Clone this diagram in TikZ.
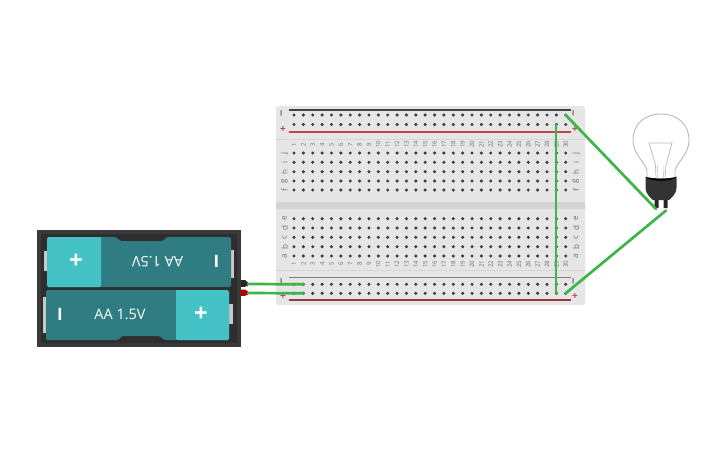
\documentclass[tikz,border=0pt]{standalone}
\usepackage{fontspec}
\setmainfont{Open Sans}
\definecolor{board}{HTML}{E6E6E6}
\definecolor{bandc}{HTML}{D3D3D3}
\definecolor{holec}{HTML}{3A3A3A}
\definecolor{wirec}{HTML}{3DB54A}
\definecolor{railred}{HTML}{C0474C}
\definecolor{raildark}{HTML}{444444}
\definecolor{labelc}{HTML}{6E6E6E}
\definecolor{teal}{HTML}{2F7D83}
\definecolor{tealL}{HTML}{45C2C6}
\definecolor{holder}{HTML}{3A3A3A}
\definecolor{termc}{HTML}{C9C9C9}
\definecolor{glass}{HTML}{B8B8B8}
\tikzset{
  hole/.style={fill=holec,draw=none},
  wire/.style={draw=wirec,line width=2.7pt,line cap=round},
  lbl/.style={text=labelc,font=\fontsize{6}{6}\selectfont,inner sep=0pt},
  railmark/.style={text=labelc,inner sep=0pt,rotate=90,font=\bfseries\fontsize{11}{11}\selectfont},
  plusmark/.style={text=railred,inner sep=0pt,font=\bfseries\fontsize{10}{10}\selectfont},
  cellwhite/.style={text=white,inner sep=0pt},
  glassline/.style={draw=glass,line width=0.9pt,fill=none},
}
\begin{document}
\begin{tikzpicture}[x=1pt,y=-1pt]
\useasboundingbox (0,0) rectangle (725,453);
% breadboard
\fill[board,rounded corners=1.5pt] (276,106) rectangle (585,305);
\fill[bandc] (276,202) rectangle (585,209);
\draw[white!84!black,line width=0.7pt] (276,139) -- (585,139) (276,270) -- (585,270);
\draw[raildark,line width=1.3pt] (289,110) -- (571,110);
\draw[railred,line width=1.3pt] (289,132) -- (571,132);
\draw[gray,line width=1.5pt] (289,277.7) -- (571,277.7);
\draw[railred!80!black,line width=1.2pt] (289,300) -- (571,300);
% holes
\foreach \i in {0,...,29}{
  \pgfmathsetmacro{\hx}{294+9.37*\i}
  \foreach \hy in {115,124.5,153,162.3,171.7,181,190,218.7,228,237.3,246.7,256,284.3,293.3}{
    \fill[hole] (\hx,\hy) circle (1.7);
  }
  \pgfmathtruncatemacro{\n}{\i+1}
  \node[lbl,rotate=90] at (\hx,144.5) {\n};
  \node[lbl,rotate=90] at (\hx,264) {\n};
}
\foreach \t/\hy in {j/153,i/162.3,h/171.7,g/181,f/190,e/218.7,d/228,c/237.3,b/246.7,a/256}{
  \node[lbl,rotate=90,font=\fontsize{8}{8}\selectfont] at (284.5,\hy) {\t};
  \node[lbl,rotate=90,font=\fontsize{8}{8}\selectfont] at (576,\hy) {\t};
}
\node[railmark] (mtl) at (283,113) {−};
\node[railmark] (mtr) at (575,113) {−};
\node[railmark] (mbl) at (283,281) {−};
\node[railmark] (mbr) at (575,281) {−};
\node[plusmark] (ptl) at (283,129.5) {+};
\node[plusmark] (ptr) at (575,129.5) {+};
\node[plusmark] (pbl) at (283,296.5) {+};
\node[plusmark] (pbr) at (575,296.5) {+};
% battery holder
\fill[holder] (37,230) rectangle (241,347);
\fill[black!82,rounded corners=2pt] (41,234) rectangle (237,343);
% terminals
\fill[termc] (43.5,251) rectangle (48,271);
\fill[termc] (230,250) rectangle (234,278);
\fill[termc] (43,297) rectangle (47,333);
\fill[termc] (228,304) rectangle (233,324);
% top cell
\fill[teal,rounded corners=1.5pt] (47,237) -- (116,237) -- (120,241) -- (163,241) -- (167,237) -- (231,237) -- (231,287) -- (47,287) -- cycle;
\fill[tealL,rounded corners=1.5pt] (101,237) -- (47,237) -- (47,287) -- (101,287) [sharp corners] -- cycle;
% bottom cell
\fill[teal,rounded corners=1.5pt] (46,290) -- (229,290) -- (229,340) -- (164,340) -- (160,336) -- (122,336) -- (118,340) -- (46,340) -- cycle;
\fill[tealL,rounded corners=1.5pt] (176,290) -- (229,290) -- (229,340) -- (176,340) [sharp corners] -- cycle;
\node[cellwhite,font=\fontsize{14.5}{14}\selectfont,rotate=180] (lt) at (157.5,262) {AA 1.5V};
\node[cellwhite,font=\fontsize{14.5}{14}\selectfont] (lb) at (120,314.5) {AA 1.5V};
\node[cellwhite,font=\bfseries\fontsize{24}{24}\selectfont] (pt) at (76,261) {+};
\node[cellwhite,font=\bfseries\fontsize{24}{24}\selectfont] (pb) at (201,314) {+};
\node[cellwhite,font=\bfseries\fontsize{17}{17}\selectfont] (it) at (216.5,261.5) {I};
\node[cellwhite,font=\bfseries\fontsize{17}{17}\selectfont] (ib) at (60,314.5) {I};
% battery leads
\fill[black!85] (241,280) -- (245,280) -- (248,282.5) -- (248,285.5) -- (245,286.8) -- (241,286.8) -- cycle;
\fill[red!70!black] (241,289.5) -- (245,289.5) -- (248,291.5) -- (248,294.5) -- (245,295.8) -- (241,295.8) -- cycle;
\coordinate (leadA) at (248,284);
\coordinate (leadB) at (248,293);
\coordinate (holeA) at (304,284.3);
\coordinate (holeB) at (304,293.3);
\coordinate (railT1) at (556,124.5);
\coordinate (railB1) at (556,293.3);
\coordinate (railT2) at (565.7,115);
\coordinate (railB2) at (565.7,293.3);
\coordinate (pinL) at (656,209);
\coordinate (pinR) at (666,210.5);
% bulb
\draw[glassline] (647,177) -- (647,170) .. controls (644,161) and (633,154) .. (633,140) .. controls (633,124) and (645,114) .. (661,114) .. controls (677,114) and (689,124) .. (689,140) .. controls (689,154) and (678,161) .. (675,170) -- (675,177);
\draw[glassline,line width=0.7pt] (649,143) -- (672,143) -- (666,165) -- (665,178) (649,143) -- (655.5,165) -- (656,178);
\draw[glassline,line width=0.5pt] (657.5,166) -- (658,178) (664,166) -- (663.5,178);
\fill[black!85] (654.5,195) rectangle (658.5,208) (663.5,195) rectangle (667.5,208);
\fill[black!80] (645.5,176.5) .. controls (650,179) and (672,179) .. (676.5,176.5) -- (676.5,188) .. controls (676.5,194) and (671,198) .. (669,200) -- (653,200) .. controls (651,198) and (645.5,194) .. (645.5,188) -- cycle;
\fill[black] (646,177) .. controls (650,179.5) and (672,179.5) .. (676,177) .. controls (672,182) and (650,182) .. (646,177);
% wires
\draw[wire] (leadA) -- (holeA);
\draw[wire] (leadB) -- (holeB);
\draw[wire] (railT1) -- (railB1);
\draw[wire] (railT2) -- (pinL);
\draw[wire] (railB2) -- (pinR);
\end{tikzpicture}
\end{document}
